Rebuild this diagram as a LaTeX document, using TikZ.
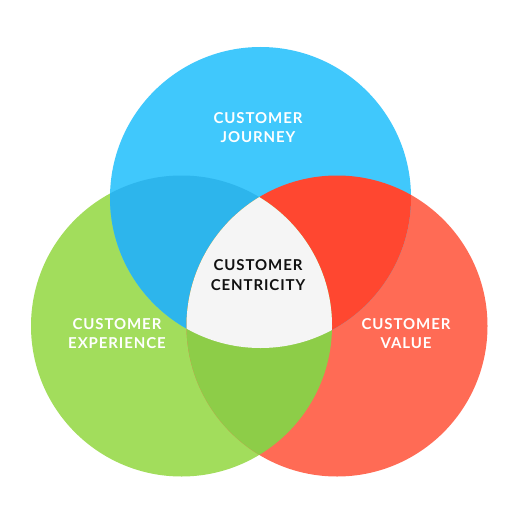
\documentclass[tikz,border=0pt]{standalone}
\usepackage{fontspec}
\setmainfont{Lato}[UprightFont=* Bold, LetterSpace=6]
\definecolor{cblue}{HTML}{40C8FC}
\definecolor{cgreen}{HTML}{A2DD5C}
\definecolor{cred}{HTML}{FF6B55}
\definecolor{cbg}{HTML}{2DB5EC}
\definecolor{cbr}{HTML}{FF4730}
\definecolor{cgr}{HTML}{8DCD48}
\definecolor{ccenter}{HTML}{F5F5F5}
\definecolor{ctext}{HTML}{111111}
\tikzset{
  lbl/.style={align=center, font=\fontsize{15}{19.5}\selectfont, text=white, inner sep=0pt},
  clbl/.style={lbl, text=ctext}
}
\begin{document}
\begin{tikzpicture}[x=1pt,y=-1pt]
\useasboundingbox (0,0) rectangle (513,532);
\def\R{150.5}
\coordinate (B) at (260.5,197.5);
\coordinate (G) at (181.5,326);
\coordinate (Rd) at (337,326);
\fill[cgreen] (G) circle (\R);
\fill[cred] (Rd) circle (\R);
\fill[cblue] (B) circle (\R);
\begin{scope}\clip (B) circle (\R); \fill[cbg] (G) circle (\R); \end{scope}
\begin{scope}\clip (B) circle (\R); \fill[cbr] (Rd) circle (\R); \end{scope}
\begin{scope}\clip (G) circle (\R); \fill[cgr] (Rd) circle (\R); \end{scope}
\begin{scope}\clip (G) circle (\R); \clip (Rd) circle (\R); \fill[ccenter] (B) circle (\R); \end{scope}
\node[lbl] (journey) at (258,127.5) {CUSTOMER\\JOURNEY};
\node[clbl] (centricity) at (258,275) {CUSTOMER\\CENTRICITY};
\node[lbl] (experience) at (117,333.5) {CUSTOMER\\EXPERIENCE};
\node[lbl] (value) at (406,333.5) {CUSTOMER\\VALUE};
\end{tikzpicture}
\end{document}
